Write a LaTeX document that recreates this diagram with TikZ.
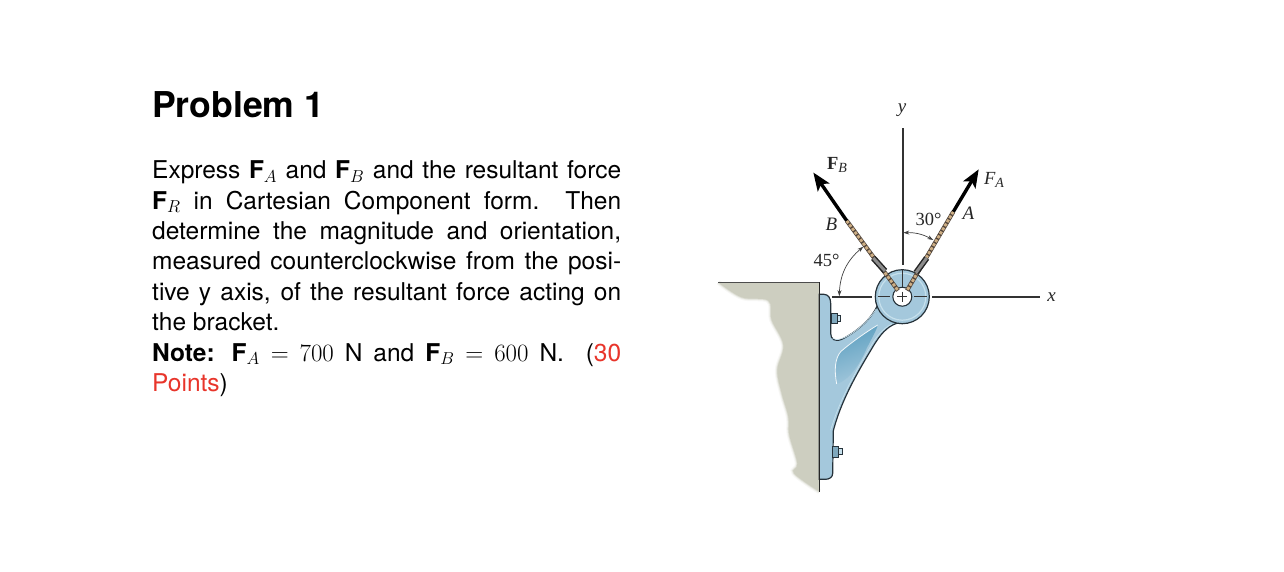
\documentclass[tikz,border=0pt]{standalone}
\usepackage{fontspec}
\setmainfont{TeX Gyre Heros}
\newfontfamily\figfont{Liberation Serif}
\usetikzlibrary{arrows.meta,calc}
\definecolor{wallc}{HTML}{CDCEC0}
\definecolor{blu}{HTML}{A4C8DC}
\definecolor{bluL}{HTML}{C6E0EC}
\definecolor{bluD}{HTML}{5C9FC0}
\definecolor{boltc}{HTML}{7FA8BD}
\definecolor{edgec}{HTML}{26323A}
\definecolor{ropeT}{HTML}{CDAE84}
\definecolor{ropeD}{HTML}{51443A}
\definecolor{redt}{HTML}{E8352B}
\tikzset{
  lab/.style={inner sep=0pt,font=\figfont\fontsize{18.5}{20}\selectfont,text=black!85},
  labit/.style={lab,font=\figfont\itshape\fontsize{19}{20}\selectfont},
  axisline/.style={draw=black!80,line width=2pt},
  forcearrow/.style={draw=black,line width=3.4pt,-{Stealth[length=18pt,width=14pt,inset=4pt]}},
  ropeunder/.style={draw=ropeD,line width=4.2pt},
  ropeover/.style={draw=ropeT,line width=2.8pt,dash pattern=on 3pt off 1.6pt},
  sleeveout/.style={draw=black!85,line width=6pt},
  sleevein/.style={draw=black!45,line width=3pt},
  anglearc/.style={draw=black!75,line width=0.7pt,{Stealth[length=6pt,width=4pt]}-{Stealth[length=6pt,width=4pt]}},
  bracketedge/.style={draw=edgec,line width=1.2pt},
  tick/.style={draw=black!80,line width=1.2pt},
}
\begin{document}
\begin{tikzpicture}[x=1pt,y=-1pt]
\useasboundingbox (0,0) rectangle (1284,571);
% text
\node[anchor=base west,inner sep=0pt,font=\bfseries\fontsize{35.6}{40}\selectfont] (title) at (152,117.5) {Problem 1};
\node[anchor=north west,inner sep=0pt,text width=469pt,align=justify,font=\fontsize{24.5}{30.4}\selectfont] (body) at (152,160.5) {%
\tolerance=9999\emergencystretch=0pt\hyphenpenalty=10000
Express \textbf{F}$_A$ and \textbf{F}$_B$ and the resultant force\linebreak
\textbf{F}$_R$ in Cartesian Component form.\ \ Then\linebreak
determine the magnitude and orientation,\linebreak
measured counterclockwise from the posi-\linebreak
tive y axis, of the resultant force acting on\linebreak
the bracket.\\
\textbf{Note:}\hspace{17pt}\textbf{F}$_A$ $=$ $700$ N and \textbf{F}$_B$ $=$ $600$ N.\ \ (\textcolor{redt}{30}\linebreak
\textcolor{redt}{Points})};
% wall
\begin{scope}[shift={(700,270)},scale=0.33333]
\foreach \w/\o in {5pt/0.15,3pt/0.25,1.5pt/0.5}{
\draw[wallc,opacity=\o,line width=\w] plot[smooth,tension=0.6] coordinates {(55,37) (125,82) (205,92) (215,150) (250,225) (232,300) (245,370) (265,440) (268,495) (292,580) (282,610) (358,665)};
}
\fill[wallc] (358,37) -- (55,37)
  -- plot[smooth,tension=0.6] coordinates {(55,37) (125,82) (205,92) (215,150) (250,225) (232,300) (245,370) (265,440) (268,495) (292,580) (282,610) (358,665)} -- cycle;
\draw[draw=black!70,line width=0.9pt] (55,37) -- (358,37);
% bracket body
\path[fill=blu,bracketedge] (358,73) -- (372,73) .. controls (385,73) and (392,85) .. (392,100)
  -- (392,190) .. controls (392,208) and (405,216) .. (425,208)
  .. controls (465,188) and (515,150) .. (535,100)
  -- (590,160) .. controls (560,170) and (540,195) .. (520,228)
  .. controls (480,295) and (425,385) .. (400,482)
  -- (398,610) .. controls (398,622) and (388,628) .. (375,628) -- (358,628) -- cycle;
% highlights on bracket
\draw[bluL,line width=0.7pt] (398,205) .. controls (420,222) and (490,175) .. (528,118);
\draw[bluL,line width=0.7pt] (575,162) .. controls (545,178) and (525,205) .. (510,232) .. controls (470,300) and (420,385) .. (392,480);
% gusset pocket
\shade[top color=bluD,bottom color=blu,shading angle=20] (533,165)
  .. controls (500,185) and (450,220) .. (422,245)
  .. controls (405,265) and (402,300) .. (410,342)
  .. controls (450,330) and (480,280) .. (500,235)
  .. controls (515,205) and (530,180) .. (533,165) -- cycle;
\draw[white!85!blu,line width=0.8pt] (533,165) .. controls (500,185) and (450,220) .. (422,245)
  .. controls (405,265) and (402,300) .. (410,342);
% bolts
\filldraw[fill=boltc,draw=edgec,line width=0.4pt] (394,130) rectangle (411,160);
\filldraw[fill=bluL,draw=edgec,line width=0.4pt] (411,137) rectangle (422,153);
\filldraw[fill=boltc,draw=edgec,line width=0.4pt] (398,528) rectangle (415,561);
\filldraw[fill=bluL,draw=edgec,line width=0.4pt] (415,536) rectangle (427,554);
\draw[black!85,line width=1.1pt] (358,37) -- (358,665);
\end{scope}
% key points
\coordinate (O) at (902.3,296.7);
\coordinate (ytop) at (902.5,128);
\coordinate (ybot) at (902.5,265);
\coordinate (xLa) at (832.3,296.7);
\coordinate (xLb) at (872.3,296.7);
\coordinate (xRa) at (932.3,296.7);
\coordinate (xRb) at (1039.5,296.7);
\coordinate (tipB) at (813.3,172.5);
\coordinate (shB) at (846.7,220.7);
\coordinate (pinB) at (898,290.5);
\coordinate (slB1) at (873.3,258);
\coordinate (slB2) at (885,271);
\coordinate (tipA) at (978.7,169.3);
\coordinate (shA) at (953.3,211.7);
\coordinate (pinA) at (907,290.5);
\coordinate (slA1) at (926.7,258);
\coordinate (slA2) at (916,272.7);
\coordinate (a30s) at (903.3,232.7);
\coordinate (a30e) at (933.3,240);
\coordinate (a45s) at (863.3,246.7);
\coordinate (a45e) at (839.3,296.2);
% eye
\node[circle,fill=blu,bracketedge,minimum size=54pt,inner sep=0pt] (eye) at (O) {};
\node[circle,draw=bluL,line width=1.2pt,minimum size=47pt,inner sep=0pt] (ring) at (O) {};
\node[circle,fill=white,draw=edgec,line width=1.1pt,minimum size=19pt,inner sep=0pt] (hole) at (O) {};
% axes
\draw[axisline] (ytop) -- (ybot);
\draw[axisline] (xLa) -- (xLb);
\draw[axisline] (xRa) -- (xRb);
\draw[tick] ($(eye.west)+(3,0)$) -- ($(hole.west)+(-2,0)$);
\draw[tick] ($(eye.east)+(-3,0)$) -- ($(hole.east)+(2,0)$);
\draw[tick] (eye.north) -- (hole.north);
\draw[tick] ($(O)+(-5,0)$) -- ($(O)+(5,0)$);
\draw[tick] ($(O)+(0,-5)$) -- ($(O)+(0,5)$);
% ropes
\draw[ropeunder] (shB) -- (pinB);
\draw[ropeover] (shB) -- (pinB);
\draw[ropeunder] (shA) -- (pinA);
\draw[ropeover] (shA) -- (pinA);
\draw[sleeveout] (slB1) -- (slB2);
\draw[sleevein] (slB1) -- (slB2);
\draw[sleeveout] (slA1) -- (slA2);
\draw[sleevein] (slA1) -- (slA2);
% forces
\draw[forcearrow] (shB) -- (tipB);
\draw[forcearrow] (shA) -- (tipA);
% angles
\draw[anglearc] (a30s) to[bend left=15] (a30e);
\draw[anglearc] (a45s) to[bend right=24] (a45e);
% labels
\node[labit] (ylab) at (902,110) {y};
\node[labit] (xlab) at (1051.5,297) {x};
\node[lab] (fb) at (837,165) {\textbf{F}{\itshape\fontsize{14}{15}\selectfont\raisebox{-3pt}{B}}};
\node[lab] (fa) at (994,180) {\itshape F{\fontsize{14}{15}\selectfont\raisebox{-3pt}{A}}};
\node[labit] (blab) at (831.5,224.5) {B};
\node[labit] (alab) at (968.5,213.5) {A};
\node[lab] (ang30) at (928.5,219) {30°};
\node[lab] (ang45) at (826.5,260.5) {45°};
\end{tikzpicture}
\end{document}
